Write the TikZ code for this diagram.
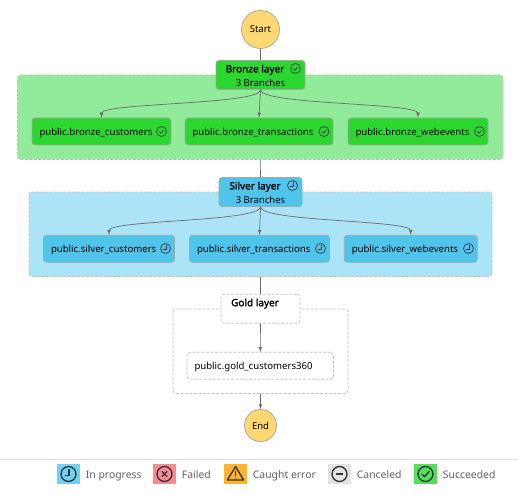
\documentclass[tikz,border=0pt]{standalone}
\usepackage{fontspec}
\setmainfont{Noto Sans}[BoldFont={Noto Sans},BoldFeatures={FakeBold=1.6}]
\usepackage{xcolor}
\usetikzlibrary{arrows,positioning}

\definecolor{bronzeFill}{HTML}{2BD62F}
\definecolor{bronzeGroupFill}{HTML}{92EB9A}
\definecolor{silverFill}{HTML}{4FC5EC}
\definecolor{silverGroupFill}{HTML}{ABE4F7}
\definecolor{terminalFill}{HTML}{FFD872}
\definecolor{caughtFill}{HTML}{FFB52F}
\definecolor{failedFill}{HTML}{F98A8E}
\definecolor{iconInk}{HTML}{2B333D}
\definecolor{flowInk}{HTML}{6B6B6B}

\newcommand{\layertitle}[1]{\rule{0pt}{9pt}{\fontsize{10}{14}\selectfont\textbf{#1}}\hspace{11pt}\null}

\tikzset{
  iconpen/.style={draw=iconInk, line width=0.65pt, line cap=round, line join=round},
  pics/checkicon/.style={code={
    \draw[iconpen] (0,0) circle (5);
    \draw[iconpen] (-2.3,0.2) -- (-0.6,1.8) -- (2.4,-1.6);
  }},
  pics/clockicon/.style={code={
    \draw[iconpen] (0,0) circle (5);
    \draw[iconpen] (0.4,-3) -- (0.4,0.8) -- (-2.2,0.8);
  }},
  pics/crossicon/.style={code={
    \draw[iconpen] (0,0) circle (5);
    \draw[iconpen] (-1.6,-1.6) -- (1.6,1.6) (-1.6,1.6) -- (1.6,-1.6);
  }},
  pics/minusicon/.style={code={
    \draw[iconpen] (0,0) circle (5);
    \draw[iconpen] (-2,0) -- (2,0);
  }},
  pics/warnicon/.style={code={
    \draw[iconpen] (0,-5) -- (5.4,4) -- (-5.4,4) -- cycle;
    \draw[iconpen] (0,-1.8) -- (0,1);
    \draw[iconpen] (0,2.6) -- (0,2.7);
  }},
  bigicon/.style={scale=1.5, iconpen/.append style={line width=1.3pt}},
  softdash/.style={dash pattern=on 3pt off 1.5pt},
  terminal/.style={circle, draw=black!40, fill=terminalFill, line width=0.6pt, inner sep=0pt,
    text height=7.5pt, text depth=0.5pt, font=\fontsize{9.5}{11}\selectfont},
  layerbox/.style={rounded corners=3pt, draw=black!35, line width=0.7pt, align=center, inner sep=0pt,
    minimum height=29pt, font=\fontsize{9.5}{14}\selectfont},
  groupbox/.style={rounded corners=3pt, draw=black!25, softdash, line width=0.7pt, inner sep=0pt},
  leafbox/.style={rounded corners=3pt, draw=black!35, line width=0.7pt, align=left, inner ysep=0pt, inner xsep=7.5pt,
    minimum height=27pt, text height=10pt, text depth=2pt, font=\fontsize{9.6}{11}\selectfont},
  flow/.style={draw=flowInk, line width=0.7pt},
  swatch/.style={minimum width=23pt, minimum height=20pt, inner sep=0pt},
  legendtext/.style={text=black!62, inner sep=0pt, text height=10pt, text depth=2pt, font=\fontsize{10.4}{12}\selectfont},
}

\begin{document}
\begin{tikzpicture}[x=1pt,y=-1pt]
  \useasboundingbox (0,0) rectangle (518,494);

  % Groups
  \node[groupbox, fill=bronzeGroupFill, minimum width=485.5pt, minimum height=84.5pt] (bronzeGroup) at (260.25,117.25) {};
  \node[groupbox, fill=silverGroupFill, minimum width=463pt, minimum height=84.5pt] (silverGroup) at (260.5,234.25) {};
  \node[groupbox, fill=white, minimum width=175pt, minimum height=84.5pt] (goldGroup) at (260.5,351.25) {};

  % Start and End
  \node[terminal, minimum size=38pt] (start) at (260.5,29.5) {Start};
  \node[terminal, minimum size=32pt] (end) at (260.5,425.5) {End};

  % Layers
  \node[layerbox, fill=bronzeFill, minimum width=89pt] (bronzeLayer) at (260.5,75) {\layertitle{Bronze layer}\\3 Branches};
  \node[layerbox, fill=silverFill, minimum width=83pt] (silverLayer) at (260.5,192) {\layertitle{Silver layer}\\3 Branches};
  \node[layerbox, softdash, fill=white, draw=black!25, minimum width=79pt] (goldLayer) at (260.5,308.75) {\layertitle{Gold layer}\\\phantom{3 Branches}};

  % Bronze branches
  \node[leafbox, fill=bronzeFill, text width=124pt] (bronzeCustomers) at (101.5,131.5) {public.bronze\_customers};
  \node[leafbox, fill=bronzeFill, text width=133pt] (bronzeTransactions) at (259,131.5) {public.bronze\_transactions};
  \node[leafbox, fill=bronzeFill, text width=125pt] (bronzeWebevents) at (418,131.5) {public.bronze\_webevents};

  % Silver branches
  \node[leafbox, fill=silverFill, text width=116pt] (silverCustomers) at (109,248.75) {public.silver\_customers};
  \node[leafbox, fill=silverFill, text width=125pt] (silverTransactions) at (259.5,248.75) {public.silver\_transactions};
  \node[leafbox, fill=silverFill, text width=118pt] (silverWebevents) at (410.75,248.75) {public.silver\_webevents};

  % Gold branch
  \node[leafbox, softdash, fill=white, draw=black!25, text width=131.5pt] (goldCustomers) at (260.25,365.75) {public.gold\_customers360};

  % Connectors
  \draw[flow] (start) -- (bronzeLayer);
  \draw[flow] (bronzeGroup.south) -- (silverLayer.north);
  \draw[flow] (silverGroup.south) -- (goldLayer.north);
  \draw[flow, -latex] (goldLayer) -- (goldCustomers);
  \draw[flow, -latex] (goldGroup.south) -- (end);

  \draw[flow, -latex] (bronzeLayer.south) .. controls +(0,15) and +(0,-15) .. (bronzeCustomers.north);
  \draw[flow, -latex] (bronzeLayer.south) -- (bronzeTransactions.north);
  \draw[flow, -latex] (bronzeLayer.south) .. controls +(0,15) and +(0,-15) .. (bronzeWebevents.north);
  \draw[flow, -latex] (silverLayer.south) .. controls +(0,15) and +(0,-15) .. (silverCustomers.north);
  \draw[flow, -latex] (silverLayer.south) -- (silverTransactions.north);
  \draw[flow, -latex] (silverLayer.south) .. controls +(0,15) and +(0,-15) .. (silverWebevents.north);

  % Status icons
  \pic at (295.5,68.5) {checkicon};
  \pic at (161.5,131.5) {checkicon};
  \pic at (324,131.5) {checkicon};
  \pic at (479.5,131.5) {checkicon};
  \pic at (292.5,185.5) {clockicon};
  \pic at (165.5,248.5) {clockicon};
  \pic at (320.5,248.5) {clockicon};
  \pic at (468.5,248.5) {clockicon};

  % Legend
  \coordinate (legendLeft) at (0,459.5);
  \coordinate (legendRight) at (518,459.5);
  \draw[black!12, line width=0.8pt] (legendLeft) -- (legendRight);

  \node[swatch, fill=silverFill!80] (swatchProgress) at (68.5,474) {};
  \node[legendtext, right=5.5pt of swatchProgress] (labelProgress) {In progress};
  \pic[bigicon] at (68.5,474) {clockicon};

  \node[swatch, fill=failedFill] (swatchFailed) at (164.5,474) {};
  \node[legendtext, right=5.5pt of swatchFailed] (labelFailed) {Failed};
  \pic[bigicon] at (164.5,474) {crossicon};

  \node[swatch, fill=caughtFill] (swatchCaught) at (235.5,474) {};
  \node[legendtext, right=5.5pt of swatchCaught] (labelCaught) {Caught error};
  \pic[bigicon] at (235.5,474) {warnicon};

  \node[swatch, fill=black!11] (swatchCanceled) at (339.5,474) {};
  \node[legendtext, right=5.5pt of swatchCanceled] (labelCanceled) {Canceled};
  \pic[bigicon] at (339.5,474) {minusicon};

  \node[swatch, fill=bronzeFill!80] (swatchSucceeded) at (425.5,474) {};
  \node[legendtext, right=5.5pt of swatchSucceeded] (labelSucceeded) {Succeeded};
  \pic[bigicon] at (425.5,474) {checkicon};
\end{tikzpicture}
\end{document}
